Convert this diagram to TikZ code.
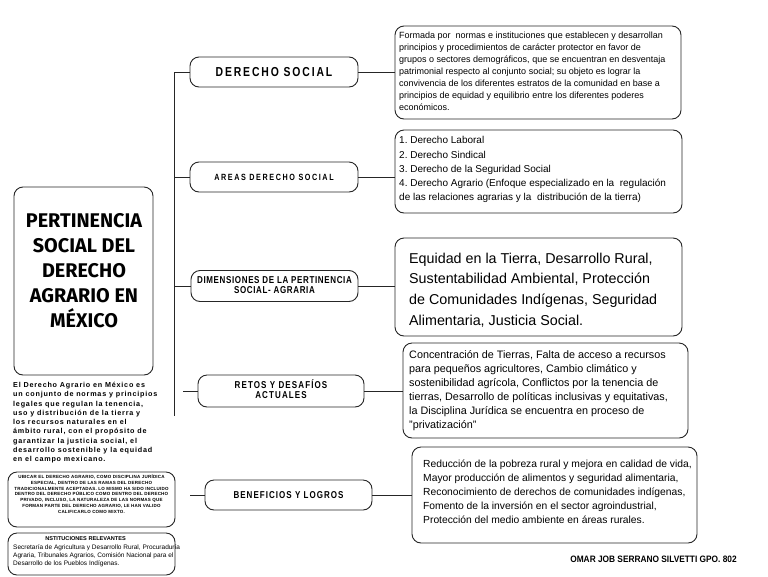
\documentclass[tikz,border=0pt]{standalone}
\usepackage{fontspec}
\setmainfont{Liberation Sans}
\newfontfamily\titlefont{Fira Sans}
\newcommand\lbl[3]{\scalebox{0.8}[1]{\fontsize{#1}{#1}\selectfont\bfseries\addfontfeatures{LetterSpace=#2}#3}}
\newcommand\lbltwo[4]{\scalebox{0.8}[1]{\fontsize{#1}{12}\selectfont\bfseries\addfontfeatures{LetterSpace=#2}\begin{tabular}{@{}c@{}}#3\\[-2pt]#4\end{tabular}}}
\frenchspacing
\begin{document}
\begin{tikzpicture}[x=1pt,y=-1pt,
  box/.style={draw=black!85, line width=0.9pt, rounded corners=9pt, inner sep=0pt},
  conn/.style={draw=black!85, line width=0.9pt},
  txt/.style={inner sep=0pt, anchor=north west, align=left, text=black}]
\useasboundingbox[fill=white] (0,0) rectangle (768,576);

% left column
\node[box, minimum width=139pt, minimum height=188pt] (title) at (83.5,281) {};
\node[inner sep=0pt, align=center, font=\titlefont\bfseries\fontsize{19.8}{25}\selectfont] (titletxt) at (84,271)
  {PERTINENCIA\\SOCIAL DEL\\DERECHO\\AGRARIO EN\\MÉXICO};

\node[txt, font=\bfseries\fontsize{7.2}{9.3}\selectfont\addfontfeatures{LetterSpace=11}] (para) at (13,382)
  {El Derecho Agrario en México es\\
   un conjunto de normas y principios\\
   legales que regulan la tenencia,\\
   uso y distribución de la tierra y\\
   los recursos naturales en el\\
   ámbito rural, con el propósito de\\
   garantizar la justicia social, el\\
   desarrollo sostenible y la equidad\\
   en el campo mexicano.};

\node[box, minimum width=167pt, minimum height=55pt] (ubi) at (91.5,499.5) {};
\node[inner sep=0pt, align=center, font=\bfseries\fontsize{4.5}{5.7}\selectfont\addfontfeatures{LetterSpace=5}] (ubitxt) at (91.5,494)
  {UBICAR EL DERECHO AGRARIO, COMO DISCIPLINA JURÍDICA\\
   ESPECIAL, DENTRO DE LAS RAMAS DEL DERECHO\\
   TRADICIONALMENTE ACEPTADAS. LO MISMO HA SIDO INCLUIDO\\
   DENTRO DEL DERECHO PÚBLICO COMO DENTRO DEL DERECHO\\
   PRIVADO, INCLUSO, LA NATURALEZA DE LAS NORMAS QUE\\
   FORMAN PARTE DEL DERECHO AGRARIO, LE HAN VALIDO\\
   CALIFICARLO COMO MIXTO.};

\node[box, minimum width=167pt, minimum height=42pt] (nst) at (91.5,554) {};
\node[inner sep=0pt, font=\bfseries\fontsize{5.6}{6}\selectfont] (nsthead) at (85.5,539) {NSTITUCIONES RELEVANTES};
\node[txt, font=\fontsize{6.5}{7.6}\selectfont] (nsttxt) at (13,545)
  {Secretaría de Agricultura y Desarrollo Rural, Procuraduría\\
   Agraria, Tribunales Agrarios, Comisión Nacional para el\\
   Desarrollo de los Pueblos Indígenas.};

% middle labels
\node[box, minimum width=168pt, minimum height=30pt] (ds) at (274,72) {\lbl{13}{18}{DERECHO SOCIAL}};
\node[box, minimum width=168pt, minimum height=30pt] (ads) at (274,177) {\lbl{9}{22}{AREAS DERECHO SOCIAL}};
\node[box, minimum width=167pt, minimum height=31pt] (dim) at (274.5,286) {\lbltwo{10}{8}{DIMENSIONES DE LA PERTINENCIA}{SOCIAL- AGRARIA}};
\node[box, minimum width=166pt, minimum height=32pt] (ret) at (281,391) {\lbltwo{10}{14}{RETOS Y DESAFÍOS}{ACTUALES}};
\node[box, minimum width=167pt, minimum height=30pt] (ben) at (288.5,495) {\lbl{10}{13}{BENEFICIOS Y LOGROS}};

% right boxes
\node[box, minimum width=286pt, minimum height=93pt] (r1) at (538,72.5) {};
\node[box, minimum width=287pt, minimum height=83pt] (r2) at (538.5,171.5) {};
\node[box, minimum width=287pt, minimum height=98pt] (r3) at (538.5,287) {};
\node[box, minimum width=285pt, minimum height=95pt] (r4) at (545.5,390.5) {};
\node[box, minimum width=285pt, minimum height=96pt] (r5) at (554.5,495) {};

\node[txt, font=\fontsize{9.0}{12}\selectfont] (r1txt) at (399,31.5)
  {Formada por \ normas e instituciones que establecen y desarrollan\\
   principios y procedimientos de carácter protector en favor de\\
   grupos o sectores demográficos, que se encuentran en desventaja\\
   patrimonial respecto al conjunto social; su objeto es lograr la\\
   convivencia de los diferentes estratos de la comunidad en base a\\
   principios de equidad y equilibrio entre los diferentes poderes\\
   económicos.};
\node[txt, font=\fontsize{10.0}{14.2}\selectfont] (r2txt) at (399,136.5)
  {1. Derecho Laboral\\
   2. Derecho Sindical\\
   3. Derecho de la Seguridad Social\\
   4. Derecho Agrario (Enfoque especializado en la \ regulación\\
   de las relaciones agrarias y la \ distribución de la tierra)};
\node[txt, font=\fontsize{14.3}{20.7}\selectfont] (r3txt) at (409,252.5)
  {Equidad en la Tierra, Desarrollo Rural,\\
   Sustentabilidad Ambiental, Protección\\
   de Comunidades Indígenas, Seguridad\\
   Alimentaria, Justicia Social.};
\node[txt, font=\fontsize{10.8}{14}\selectfont] (r4txt) at (409,350)
  {Concentración de Tierras, Falta de acceso a recursos\\
   para pequeños agricultores, Cambio climático y\\
   sostenibilidad agrícola, Conflictos por la tenencia de\\
   tierras, Desarrollo de políticas inclusivas y equitativas,\\
   la Disciplina Jurídica se encuentra en proceso de\\
   "privatización"};
\node[txt, font=\fontsize{10.3}{14}\selectfont] (r5txt) at (423,460)
  {Reducción de la pobreza rural y mejora en calidad de vida,\\
   Mayor producción de alimentos y seguridad alimentaria,\\
   Reconocimiento de derechos de comunidades indígenas,\\
   Fomento de la inversión en el sector agroindustrial,\\
   Protección del medio ambiente en áreas rurales.};

\node[inner sep=0pt, font=\bfseries\fontsize{9.3}{10}\selectfont] (author) at (653.5,559)
  {\scalebox{0.895}[1]{OMAR JOB SERRANO SILVETTI GPO. 802}};

% connectors
\coordinate (trunkTop) at (174,72);
\coordinate (trunkBot) at (174,416);
\coordinate (retStart) at (183,391);
\coordinate (benStart) at (190,495);
\draw[conn] (trunkTop) -- (trunkBot);
\draw[conn] (trunkTop) -- (ds.west);
\draw[conn] (ads.west -| trunkTop) -- (ads.west);
\draw[conn] (dim.west -| trunkTop) -- (dim.west);
\draw[conn] (retStart) -- (ret.west);
\draw[conn] (benStart) -- (ben.west);
\draw[conn] (ds.east) -- (ds.east -| r1.west);
\draw[conn] (ads.east) -- (ads.east -| r2.west);
\draw[conn] (dim.east) -- (dim.east -| r3.west);
\draw[conn] (ret.east) -- (ret.east -| r4.west);
\draw[conn] (ben.east) -- (ben.east -| r5.west);
\end{tikzpicture}
\end{document}
